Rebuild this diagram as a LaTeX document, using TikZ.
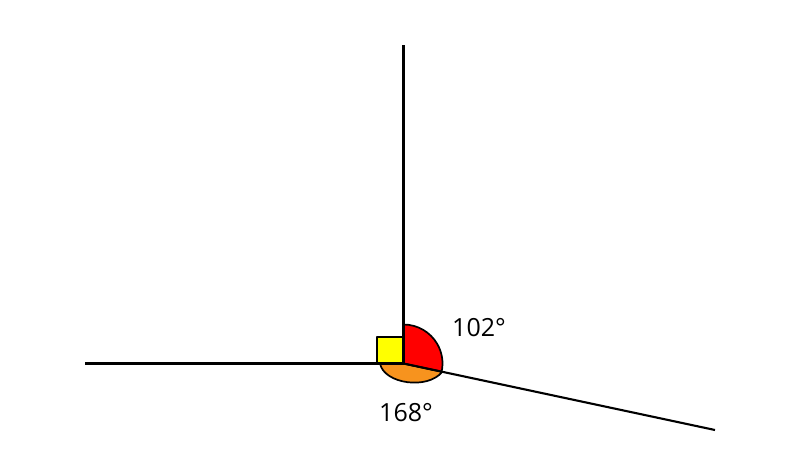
\documentclass[tikz,border=0pt]{standalone}
\usepackage{fontspec}
\setmainfont{Open Sans}
\definecolor{angred}{HTML}{FF0000}
\definecolor{angyellow}{HTML}{FFFF00}
\definecolor{angorange}{HTML}{F7931E}
\tikzset{
  ray/.style={line width=2.1pt, black},
  wedge/.style={line width=1.7pt, draw=black, line join=round},
  lbl/.style={font=\fontsize{25}{30}\selectfont, inner sep=0pt}
}
\begin{document}
\begin{tikzpicture}[x=1pt,y=-1pt]
\useasboundingbox (0,0) rectangle (800,450);
\coordinate (O) at (403.5,363.5);
\coordinate (top) at (403.5,45);
\coordinate (left) at (85,363.5);
\coordinate (right) at (715,430);
% orange reflex-side wedge
\filldraw[wedge, fill=angorange] (380,363.5) .. controls (384,384) and (428,390) .. (442.3,371.7) -- (O) -- cycle;
% red 102 wedge
\filldraw[wedge, fill=angred] (O) -- (403.5,324.5) arc[start angle=-90, end angle=12, radius=39] -- cycle;
% yellow right-angle square
\filldraw[wedge, fill=angyellow] (377,337) rectangle (O);
% rays
\draw[ray] (O) -- (top);
\draw[ray] (O) -- (left);
\draw[ray] (O) -- (right);
% labels
\node[lbl] (a102) at (479,327.5) {102°};
\node[lbl] (a168) at (406,412.5) {168°};
\end{tikzpicture}
\end{document}
